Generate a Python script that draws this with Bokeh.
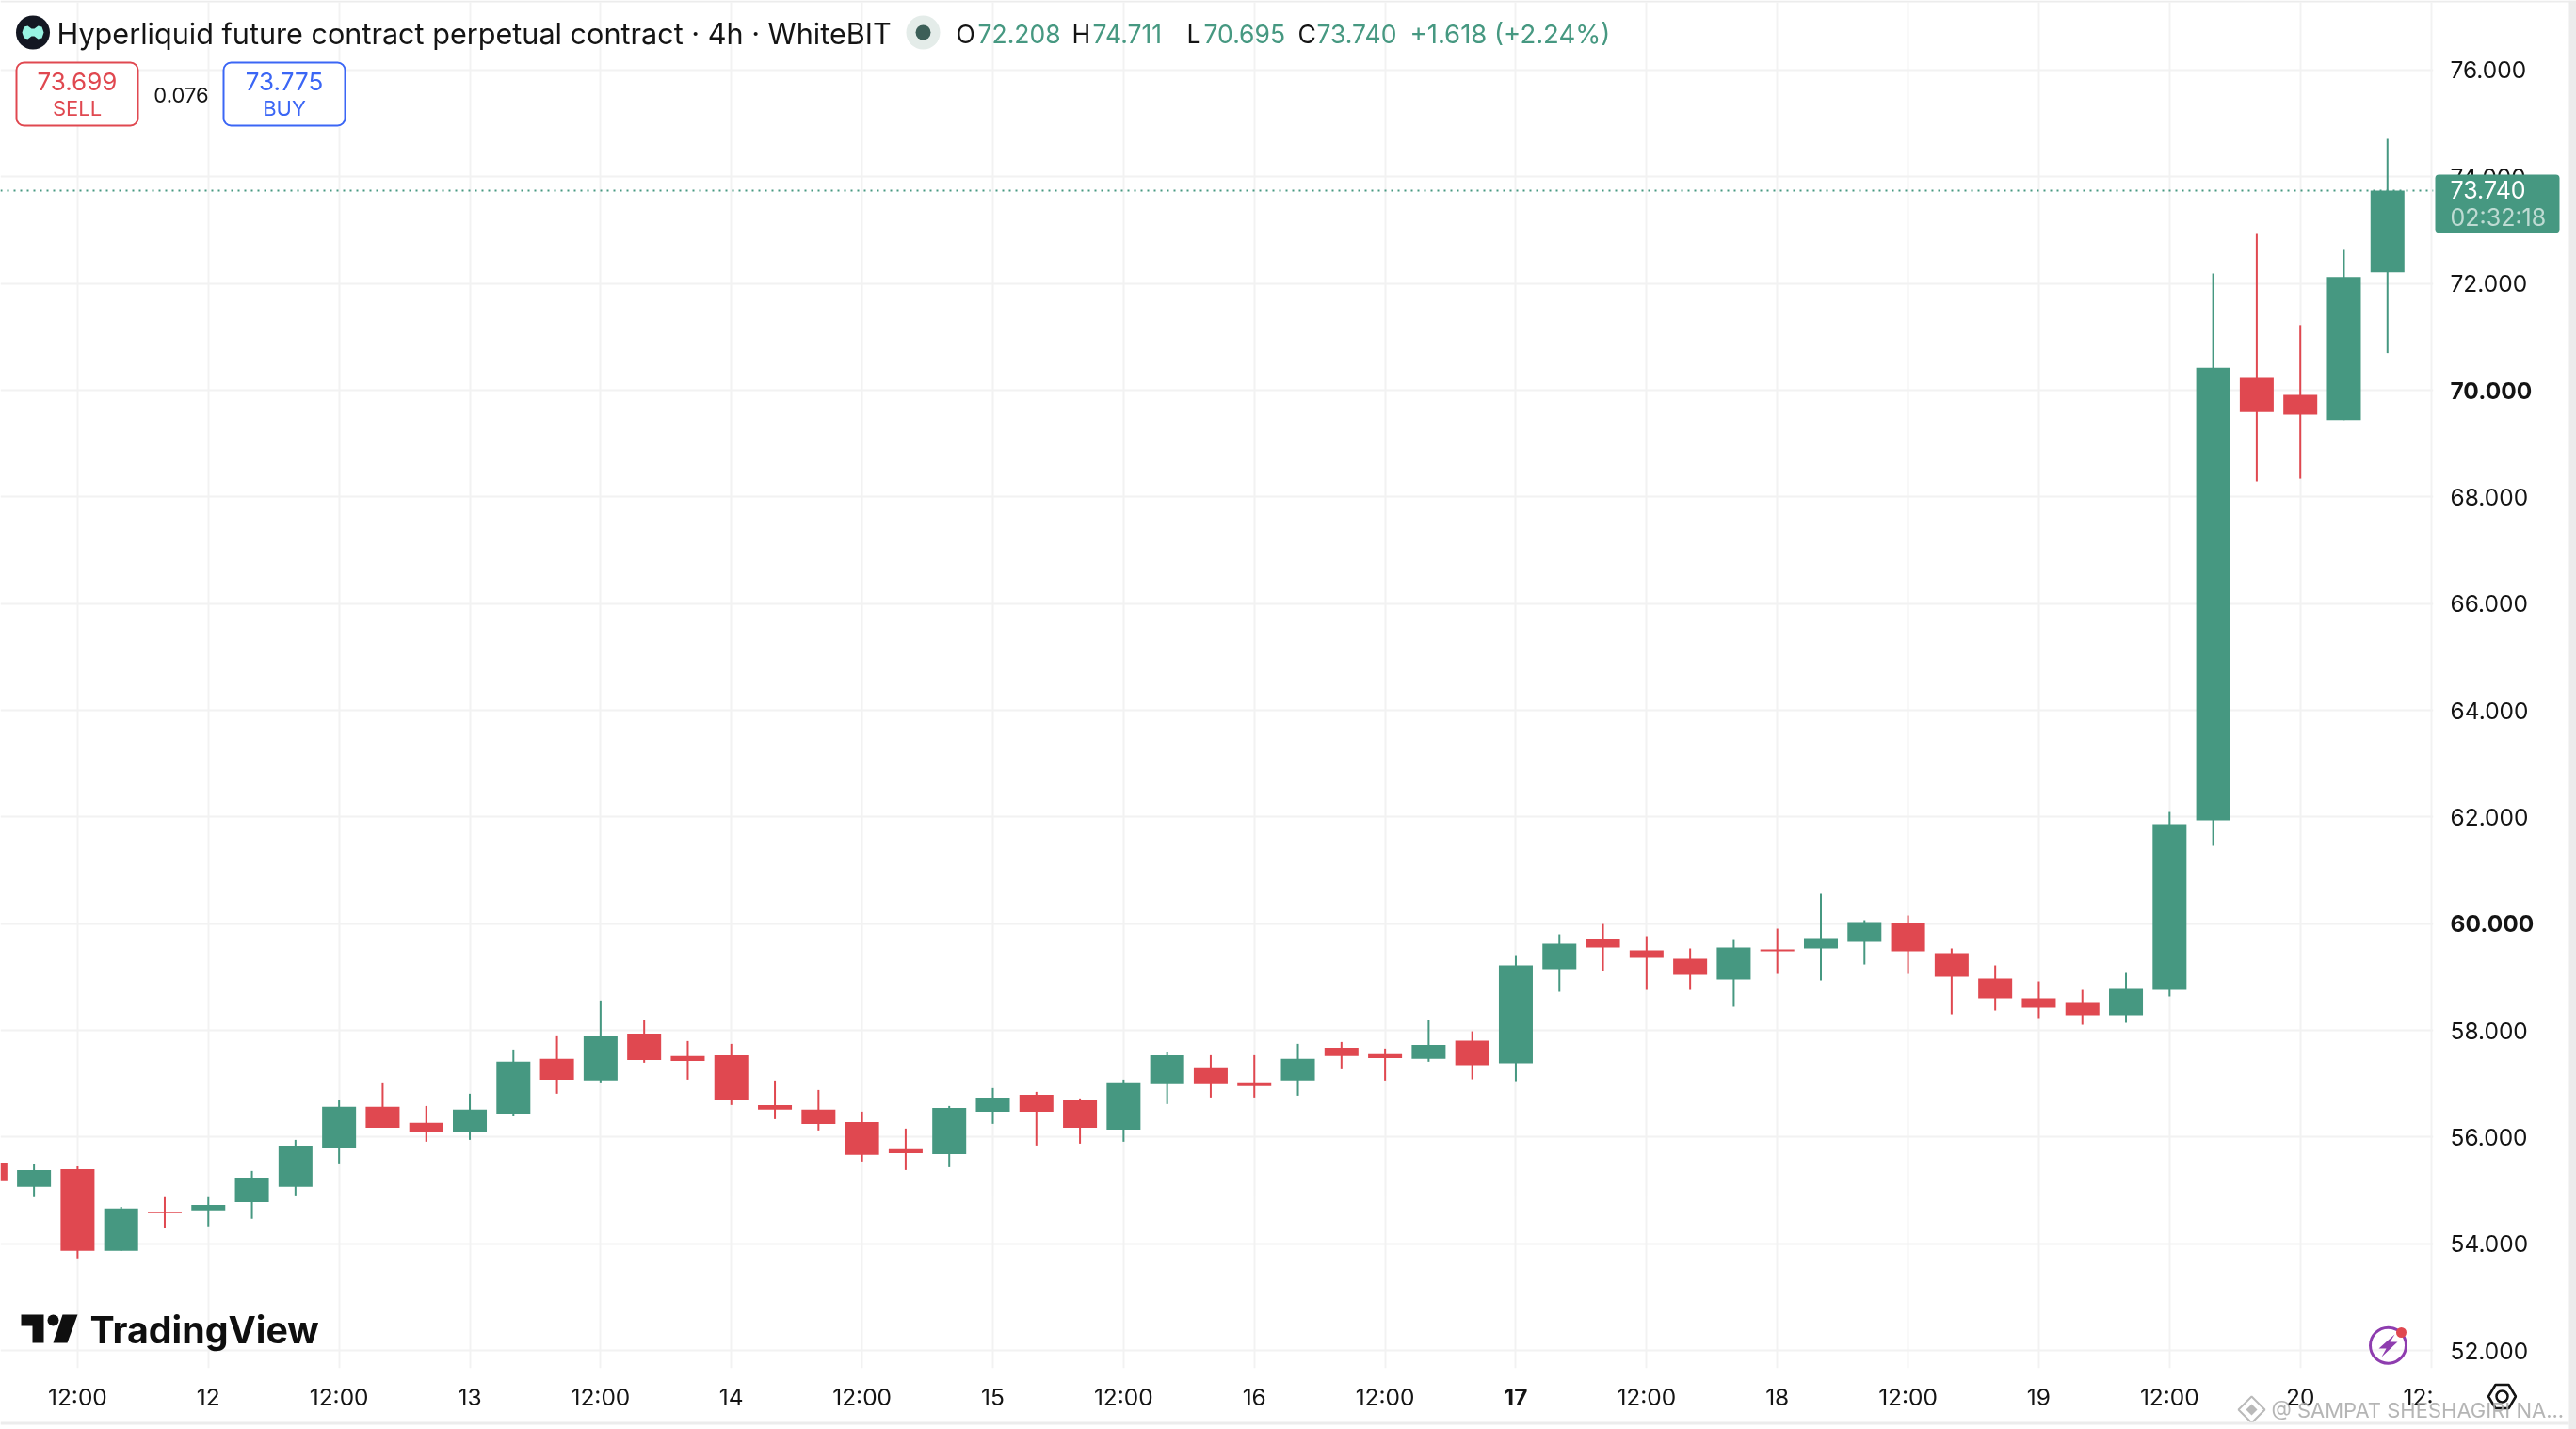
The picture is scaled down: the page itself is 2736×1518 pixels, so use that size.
from bokeh.plotting import figure
from bokeh.embed import file_html
from bokeh.resources import INLINE
from bokeh.models import (ColumnDataSource, Range1d, FixedTicker, Span, Label, BoxAnnotation)

# ---------- data ----------
bar_index = list(range(-2, 54))
opens = [55.523, 55.065, 55.400, 53.865, 54.606, 54.624, 54.782, 55.065, 55.788, 56.565, 56.265, 56.088,
         56.441, 57.465, 57.059, 57.941, 57.518, 57.535, 56.600, 56.512, 56.282, 55.771, 55.682, 56.476,
         56.794, 56.688, 56.141, 57.006, 57.306, 57.024, 57.059, 57.676, 57.553, 57.465, 57.806, 57.382,
         59.147, 59.712, 59.500, 59.341, 58.953, 59.518, 59.536, 59.659, 60.012, 59.447, 58.971, 58.600,
         58.530, 58.283, 58.759, 61.936, 70.230, 69.910, 69.440, 72.208]
highs = [55.594, 55.488, 55.453, 54.694, 54.871, 54.871, 55.365, 55.947, 56.688, 57.024, 56.582, 56.812,
         57.641, 57.906, 58.559, 58.188, 57.800, 57.747, 57.059, 56.882, 56.476, 56.159, 56.582, 56.918,
         56.847, 56.724, 57.076, 57.588, 57.535, 57.535, 57.747, 57.782, 57.659, 58.188, 57.982, 59.394,
         59.800, 59.994, 59.765, 59.536, 59.694, 59.906, 60.559, 60.065, 60.153, 59.536, 59.218, 58.918,
         58.759, 59.077, 62.094, 72.190, 72.930, 71.220, 72.630, 74.711]
lows = [55.094, 54.871, 53.724, 53.865, 54.306, 54.324, 54.465, 54.906, 55.506, 56.176, 55.912, 55.947,
        56.388, 56.812, 57.024, 57.394, 57.076, 56.600, 56.335, 56.124, 55.541, 55.382, 55.435, 56.247,
        55.841, 55.876, 55.912, 56.618, 56.741, 56.741, 56.776, 57.271, 57.059, 57.412, 57.082, 57.047,
        58.724, 59.112, 58.759, 58.759, 58.442, 59.059, 58.936, 59.235, 59.059, 58.300, 58.371, 58.230,
        58.106, 58.142, 58.636, 61.459, 68.290, 68.340, 69.440, 70.695]
closes = [55.171, 55.382, 53.865, 54.659, 54.571, 54.729, 55.241, 55.841, 56.565, 56.176, 56.088, 56.512,
          57.412, 57.076, 57.888, 57.447, 57.429, 56.688, 56.512, 56.247, 55.665, 55.700, 56.547, 56.741,
          56.476, 56.176, 57.024, 57.535, 57.006, 56.953, 57.465, 57.518, 57.482, 57.729, 57.347, 59.218,
          59.624, 59.553, 59.359, 59.041, 59.553, 59.482, 59.730, 60.029, 59.482, 59.006, 58.600, 58.424,
          58.283, 58.777, 61.865, 70.420, 69.590, 69.540, 72.120, 73.740]

x_ticks = list(range(0, 55, 3))
x_labels = ["12:00", "12", "12:00", "13", "12:00", "14", "12:00", "15", "12:00", "16", "12:00", "17",
            "12:00", "18", "12:00", "19", "12:00", "20", "12:"]
y_ticks = list(range(52, 78, 2))
y_labels = ["%d.000" % t for t in y_ticks]
bold_y = [60, 70]
bold_x = ["17"]
last_price = 73.740

title_text = "Hyperliquid future contract perpetual contract · 4h · WhiteBIT"

GREEN = "#469881"
RED = "#E04850"
BLUE = "#3B66F5"
INK = "#141414"
GRID = "#F2F2F2"
BAND = "#ECECEC"
FONT = "Inter"

# pixel geometry of the price pane
X0, DX = 81.9, 46.29
Y70, DY = 414, 56.67
def sx(i):
    return X0 + i * DX
def sy(v):
    return Y70 + (70 - v) * DY

W, H = 2736, 1518
PANE_R, PANE_T, PANE_B = 2584, 2, 1453
FIXED = {"position": "fixed", "left": "0", "top": "0"}

p = figure(width=W, height=H, output_backend="svg", toolbar_location=None,
           x_range=Range1d((0 - X0) / DX, (PANE_R - X0) / DX),
           y_range=Range1d(70 + (Y70 - PANE_B) / DY, 70 + (Y70 - PANE_T) / DY),
           y_axis_location="right", background_fill_color="white", border_fill_color="white",
           min_border_left=0, min_border_top=PANE_T, min_border_right=W - PANE_R, min_border_bottom=H - PANE_B)
p.styles = dict(FIXED)
p.outline_line_color = None

# ---------- axes ----------
xa = p.xaxis[0]
xa.ticker = FixedTicker(ticks=x_ticks)
xa.major_label_overrides = {t: ("" if (l == "12:" or l in bold_x) else l) for t, l in zip(x_ticks, x_labels)}
ya = p.yaxis[0]
ya.ticker = FixedTicker(ticks=y_ticks)
ya.major_label_overrides = {t: ("" if t in bold_y else l) for t, l in zip(y_ticks, y_labels)}
for ax in (xa, ya):
    ax.axis_line_color = None
    ax.major_tick_line_color = None
    ax.minor_tick_line_color = None
    ax.major_tick_in = 0
    ax.major_tick_out = 0
    ax.major_label_text_font = FONT
    ax.major_label_text_font_size = "24.5px"
    ax.major_label_text_color = INK
xa.major_label_standoff = 15
ya.major_label_standoff = 18

p.xgrid.ticker = FixedTicker(ticks=x_ticks)
p.ygrid.ticker = FixedTicker(ticks=y_ticks)
for g in (p.xgrid, p.ygrid):
    g.grid_line_color = GRID
    g.grid_line_width = 2

# ---------- candles ----------
colors = [GREEN if c >= o else RED for o, c in zip(opens, closes)]
src = ColumnDataSource(dict(x=bar_index, o=opens, h=highs, l=lows, c=closes, col=colors))
p.segment("x", "h", "x", "l", source=src, line_color="col", line_width=2)
p.vbar("x", width=0.778, top="o", bottom="c", source=src, fill_color="col", line_color=None)

p.add_layout(Span(location=last_price, dimension="width", line_color=GREEN, line_width=2, line_dash="2 5"))

# ---------- chrome overlay: a transparent figure whose scale is the page itself ----------
q = figure(width=W, height=H, output_backend="svg", toolbar_location=None,
           x_range=Range1d(0, W), y_range=Range1d(H, 0), x_axis_location=None, y_axis_location=None,
           background_fill_color=None, border_fill_color=None,
           min_border_left=0, min_border_top=0, min_border_right=0, min_border_bottom=0)
q.styles = dict(FIXED)
q.outline_line_color = None
q.grid.visible = False

def box(x0, y0, x1, y1, fill, line=None, lw=0, radius=0, alpha=1.0):
    q.add_layout(BoxAnnotation(left=x0, right=x1, top=y0, bottom=y1, fill_color=fill, fill_alpha=alpha,
                               line_color=line, line_width=lw, line_alpha=1 if line else 0, border_radius=radius))

def lab(px, py, text, size, color=INK, style="normal", align="left", alpha=1.0):
    q.add_layout(Label(x=px, y=py, text=text, text_font=FONT, text_font_size="%gpx" % size,
                       text_color=color, text_font_style=style, text_align=align, text_alpha=alpha,
                       text_baseline="middle"))

def poly(pts, fill=None, line=None, lw=0, alpha=1.0):
    q.patch([a for a, b in pts], [b for a, b in pts], fill_color=fill, fill_alpha=alpha if fill else 0,
            line_color=line, line_width=lw, line_alpha=alpha if line else 0)

# page bands
box(0, 0, W, 2, BAND)
box(2728, 0, W, H, BAND)
box(0, 1510, 2728, 1513, BAND)

# bold axis labels and the clipped last time label
for t in bold_y:
    lab(2602, sy(t), y_labels[y_ticks.index(t)], 24.5, style="bold")
for l in bold_x:
    lab(sx(x_ticks[x_labels.index(l)]), 1483, l, 24.5, style="bold", align="center")
lab(2552, 1483, "12:", 24.5)

# legend
q.scatter([34.5], [34], size=36, marker="circle", fill_color="#131722", line_color=None)
poly([(23, 34), (25, 28), (29, 27), (33, 30), (36, 30), (40, 27), (44, 28), (46, 34), (44, 40), (40, 41),
      (36, 38), (33, 38), (29, 41), (25, 40)], fill="#97F3E2")
lab(60, 35, title_text, 30.6)
q.scatter([980], [34], size=36, marker="circle", fill_color="#E4ECE9", line_color=None)
q.scatter([980], [34], size=16, marker="circle", fill_color="#3C5F58", line_color=None)
lab(1015, 35, "O", 26.5)
lab(1038, 35, "72.208", 26.5, GREEN)
lab(1138, 35, "H", 26.5)
lab(1160, 35, "74.711", 26.5, GREEN)
lab(1260, 35, "L", 26.5)
lab(1278, 35, "70.695", 26.5, GREEN)
lab(1378, 35, "C", 26.5)
lab(1398, 35, "73.740", 26.5, GREEN)
lab(1497, 35, "+1.618 (+2.24%)", 27.5, GREEN)

# sell / buy
box(17, 66, 146, 133, "white", RED, 2, 8)
lab(81.5, 86, "73.699", 26, RED, align="center")
lab(81.5, 114, "SELL", 22, RED, align="center")
lab(192, 100, "0.076", 22, align="center")
box(237, 66, 366, 133, "white", BLUE, 2, 8)
lab(301.5, 86, "73.775", 26, BLUE, align="center")
lab(301.5, 114, "BUY", 22, BLUE, align="center")

# last price tag
box(2586, 185, 2718, 246.7, GREEN, radius=4)
lab(2602, 201, "73.740", 25, "white")
lab(2602, 230, "02:32:18", 25, "white", alpha=0.65)

# TradingView logo
poly([(22, 1396), (46, 1396), (46, 1426), (34, 1426), (34, 1408), (22, 1408)], fill="#0F0F0F")
poly([(66, 1396), (82, 1396), (71, 1426), (56, 1426)], fill="#0F0F0F")
q.scatter([56], [1402], size=12, marker="circle", fill_color="#0F0F0F", line_color=None)
lab(95, 1412, "TradingView", 39.3, "#0F0F0F", style="bold")

# lightning icon
PURPLE = "#8E3DAF"
q.scatter([2536], [1428.7], size=38, marker="circle", fill_color="white", fill_alpha=0, line_color=PURPLE, line_width=3)
poly([(2543, 1417), (2526, 1432), (2534, 1432), (2529, 1441), (2546, 1425), (2538, 1425)], fill=PURPLE)
q.scatter([2550], [1415], size=11, marker="circle", fill_color=RED, line_color=None)

# settings icon
poly([(2642.5, 1483), (2650, 1470.5), (2664, 1470.5), (2671.5, 1483), (2664, 1495.5), (2650, 1495.5)], line="#141414", lw=2.5)
q.scatter([2657], [1483], size=12, marker="circle", fill_alpha=0, line_color="#141414", line_width=2.5)

# watermark
WM = "#A8A8A8"
poly([(2391, 1483), (2405, 1497), (2391, 1511), (2377, 1497)], line=WM, lw=2, alpha=0.8)
poly([(2391, 1491), (2397, 1497), (2391, 1503), (2385, 1497)], fill=WM, alpha=0.8)
lab(2412, 1497, "@ SAMPAT SHESHAGIRI NA...", 22, WM, alpha=0.85)

open("out.html", "w").write(file_html([p, q], INLINE))
